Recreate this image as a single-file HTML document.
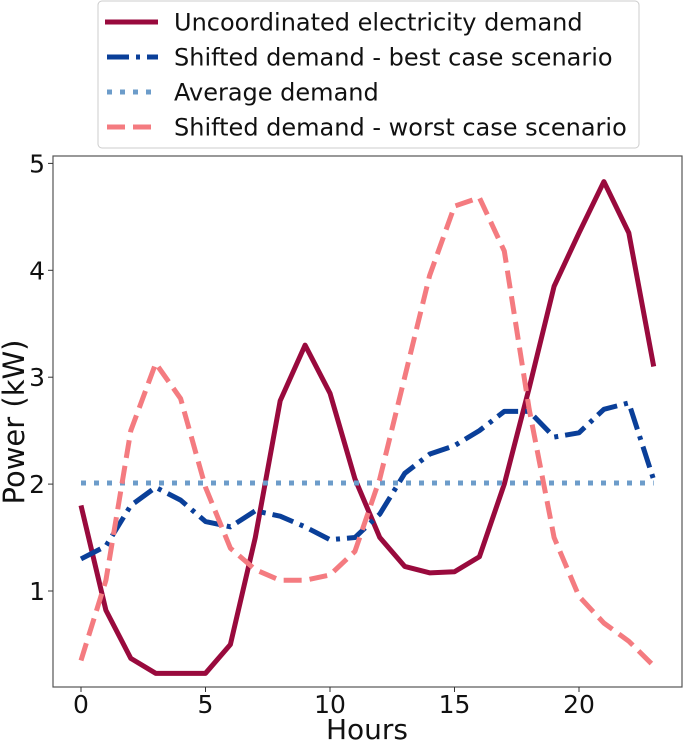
<!DOCTYPE html>
<html><head><meta charset="utf-8"><style>
html,body{margin:0;padding:0;background:#fff;}
svg text{font-family:"DejaVu Sans","Liberation Sans",sans-serif;fill:#111;}
</style></head><body>
<svg id="chart" width="685" height="743" xmlns="http://www.w3.org/2000/svg">
<g id="plot"></g>
<g id="legend">
<rect x="98" y="1" width="541" height="147" rx="4" fill="#fff" stroke="#ccc" stroke-width="1"/>
<g>
<line x1="105" y1="22" x2="158" y2="22" stroke="#990a3d" stroke-width="5"/>
<text x="174" y="30.5" font-size="24">Uncoordinated electricity demand</text></g>
<g>
<line x1="107" y1="57" x2="158" y2="57" stroke="#0a3f99" stroke-width="5" stroke-dasharray="22,7,4,7"/>
<text x="174" y="65.5" font-size="24">Shifted demand - best case scenario</text></g>
<g>
<line x1="107" y1="92" x2="158" y2="92" stroke="#6c9cca" stroke-width="5" stroke-dasharray="5,8"/>
<text x="174" y="100.5" font-size="24">Average demand</text></g>
<g>
<line x1="107" y1="127" x2="158" y2="127" stroke="#f47b80" stroke-width="5" stroke-dasharray="18,8"/>
<text x="174" y="135.5" font-size="24">Shifted demand - worst case scenario</text></g>
</g>
</svg>
<script>
const hours = [0,1,2,3,4,5,6,7,8,9,10,11,12,13,14,15,16,17,18,19,20,21,22,23];
const uncoordinated = [1.8,0.82,0.37,0.23,0.23,0.23,0.5,1.5,2.78,3.3,2.85,2.05,1.5,1.23,1.17,1.18,1.32,2.0,2.9,3.85,4.35,4.83,4.35,3.1];
const bestCase = [1.3,1.42,1.8,1.97,1.85,1.65,1.6,1.75,1.7,1.6,1.48,1.5,1.72,2.1,2.28,2.36,2.5,2.68,2.68,2.44,2.48,2.7,2.76,2.04];
const averageDemand = [2.01,2.01,2.01,2.01,2.01,2.01,2.01,2.01,2.01,2.01,2.01,2.01,2.01,2.01,2.01,2.01,2.01,2.01,2.01,2.01,2.01,2.01,2.01,2.01];
const worstCase = [0.35,1.1,2.5,3.13,2.8,1.97,1.4,1.2,1.1,1.1,1.15,1.37,2.05,3.0,3.95,4.6,4.68,4.18,2.7,1.5,0.95,0.7,0.53,0.3];
const xTicks = [0,5,10,15,20];
const yTicks = [1,2,3,4,5];

const NS = "http://www.w3.org/2000/svg";
const g = document.getElementById('plot');
const L=53,R=682,T=156,B=687;
const xs = v => 81 + v*24.9;
const ys = v => 591 - (v-1)*106.9;
function mk(tag, attrs){const e=document.createElementNS(NS,tag);for(const k in attrs)e.setAttribute(k,attrs[k]);g.appendChild(e);return e;}

const frame = mk('rect',{x:L,y:T,width:R-L,height:B-T,fill:'none',stroke:'#555','stroke-width':1.2});



xTicks.forEach(t=>{
  const tk = mk('line',{x1:xs(t),x2:xs(t),y1:B,y2:B+5,stroke:'#333','stroke-width':1});
  
  
  const tx = mk('text',{x:xs(t),y:B+26,'font-size':25,'text-anchor':'middle'});
  tx.textContent = t;
  
  
});
yTicks.forEach(t=>{
  const tk = mk('line',{x1:L-5,x2:L,y1:ys(t),y2:ys(t),stroke:'#333','stroke-width':1});
  
  
  const tx = mk('text',{x:L-8,y:ys(t)+9,'font-size':25,'text-anchor':'end'});
  tx.textContent = t;
  
  
});
const xt = mk('text',{x:367,y:739,'font-size':28,'text-anchor':'middle'});
xt.textContent='Hours';


const yt = mk('text',{x:0,y:0,'font-size':29,'text-anchor':'middle',transform:'translate(24,422) rotate(-90)'});
yt.textContent='Power (kW)';



function series(vals,color,dash,name){
  const pts = vals.map((v,i)=>xs(hours[i])+','+ys(v)).join(' ');
  const p = mk('polyline',{points:pts,fill:'none',stroke:color,'stroke-width':5,'stroke-linejoin':'round'});
  if(dash) p.setAttribute('stroke-dasharray',dash);
  
  
}
series(uncoordinated,'#990a3d',null,'uncoordinated-line');
series(bestCase,'#0a3f99','22,7,4,7','best-case-line');
series(averageDemand,'#6c9cca','5,8','average-line');
series(worstCase,'#f47b80','18,8','worst-case-line');
</script>
</body></html>
